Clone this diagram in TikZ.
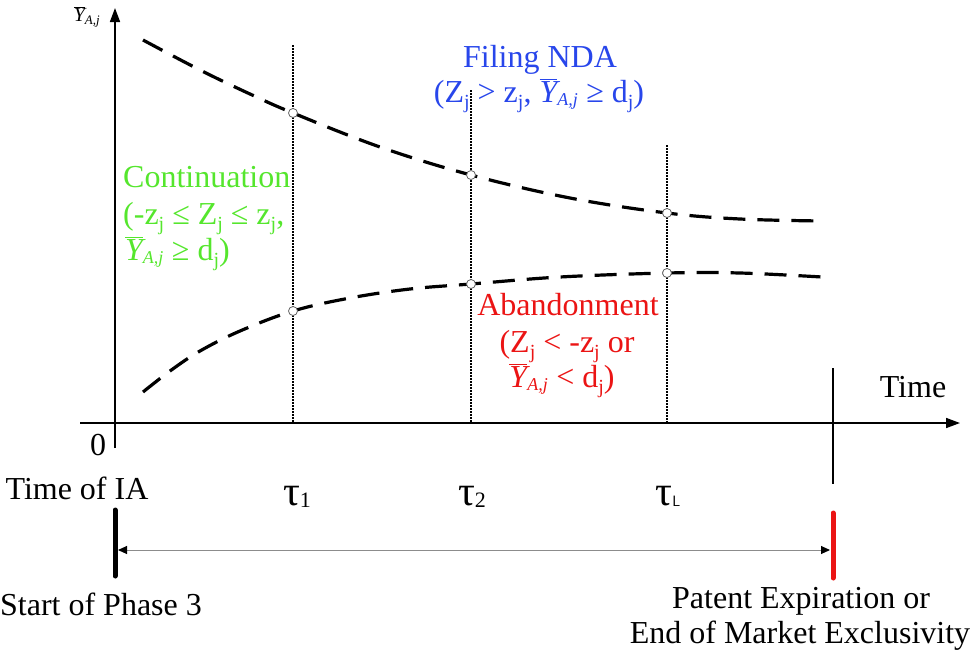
\documentclass[tikz,border=0pt]{standalone}
\usepackage{fontspec}
\setmainfont{Liberation Serif}
\usetikzlibrary{arrows.meta}
\definecolor{nda}{RGB}{40,70,235}
\definecolor{cont}{RGB}{85,230,45}
\definecolor{aban}{RGB}{235,20,20}
\newcommand{\lo}[1]{\raisebox{-6pt}{\fontsize{20}{20}\selectfont #1}}
\newcommand{\YAj}{$\overline{\hbox{\itshape Y}}_{\hbox{\fontsize{18}{18}\selectfont\itshape A,j}}$}
\newcommand{\YAjs}{$\overline{\hbox{\itshape Y}}_{\hbox{\fontsize{13}{13}\selectfont\itshape A,j}}$}
\tikzset{
  big/.style={font=\fontsize{32}{37}\selectfont, inner sep=0pt, anchor=base},
  taulab/.style={font=\fontsize{42}{42}\selectfont, inner sep=0pt, anchor=base},
  axis/.style={line width=1.6pt, -{Triangle[length=14pt,width=10pt]}},
  guide/.style={line width=1.1pt, dash pattern=on 1.6pt off 1.4pt},
  boundary/.style={line width=3.2pt, dash pattern=on 22pt off 12pt},
  pt/.style={circle, draw=black!60, fill=white, line width=0.8pt, minimum size=9pt, inner sep=0pt},
  bar/.style={line width=5pt, line cap=round},
}
\begin{document}
\begin{tikzpicture}[x=1pt,y=-1pt]
\useasboundingbox (0,0) rectangle (975,654);
% axes
\coordinate (ybot) at (115,448);
\coordinate (ytop) at (115,8);
\coordinate (xl) at (80,423);
\coordinate (xr) at (960,423);
\draw[axis] (ybot) -- (ytop);
\draw[axis] (xl) -- (xr);
\node[inner sep=0pt, font=\fontsize{20}{20}\selectfont] (ylab) at (87,17) {\YAjs};
\node[big] (zero) at (98,455) {0};
\node[big] (time) at (913,397) {Time};
% guide lines
\coordinate (g1t) at (293,45);  \coordinate (g1b) at (293,423);
\coordinate (g2t) at (471,90);  \coordinate (g2b) at (471,423);
\coordinate (g3t) at (667,145); \coordinate (g3b) at (667,423);
\draw[guide] (g1t) -- (g1b);
\draw[guide] (g2t) -- (g2b);
\draw[guide] (g3t) -- (g3b);
\coordinate (endt) at (833,368); \coordinate (endb) at (833,484);
\draw[line width=1.4pt] (endt) -- (endb);
% boundaries
\draw[boundary] plot[smooth, tension=0.6] coordinates {(143,40) (200,70) (250,94) (293,113) (380,147) (471,175) (570,198) (667,213) (740,219) (822,221)};
\draw[boundary] plot[smooth, tension=0.6] coordinates {(143,392) (170,371) (200,351) (240,331) (293,311) (350,298) (410,289) (471,284) (560,277) (667,273) (740,273) (822,277)};
\node[pt] (u1) at (293,113) {};
\node[pt] (u2) at (471,175) {};
\node[pt] (u3) at (667,213) {};
\node[pt] (l1) at (293,311) {};
\node[pt] (l2) at (471,284) {};
\node[pt] (l3) at (667,273) {};
% region labels
\node[big, text=nda] (nda1) at (540,67) {Filing NDA};
\node[big, text=nda] (nda2) at (539,102) {(Z\lo{j} > z\lo{j}, \YAj{} ≥ d\lo{j})};
\node[big, text=cont, anchor=base west] (con1) at (123,187) {Continuation};
\node[big, text=cont, anchor=base west] (con2) at (123,224) {(-z\lo{j} ≤ Z\lo{j} ≤ z\lo{j},};
\node[big, text=cont, anchor=base west] (con3) at (125,260) {\YAj{} ≥ d\lo{j})};
\node[big, text=aban] (ab1) at (568,315) {Abandonment};
\node[big, text=aban] (ab2) at (567,352) {(Z\lo{j} < -z\lo{j} or};
\node[big, text=aban] (ab3) at (562,387) {\YAj{} < d\lo{j})};
% time labels
\node[big] (tia) at (77,499) {Time of IA};
\node[taulab] (tau1) at (297,505) {τ\raisebox{-2pt}{\fontsize{22}{22}\selectfont 1}};
\node[taulab] (tau2) at (472,505) {τ\raisebox{-2pt}{\fontsize{22}{22}\selectfont 2}};
\node[taulab] (tauL) at (668,505) {τ\raisebox{-1pt}{\sffamily\fontsize{15}{15}\selectfont L}};
% bottom span
\coordinate (s1) at (115,510); \coordinate (s2) at (115,576);
\coordinate (e1) at (833,513); \coordinate (e2) at (833,578);
\draw[bar] (s1) -- (s2);
\draw[bar, aban] (e1) -- (e2);
\coordinate (al) at (118,550); \coordinate (ar) at (830,550);
\draw[line width=1pt, black!45, {Triangle[black,length=9pt,width=8pt]}-{Triangle[black,length=9pt,width=8pt]}] (al) -- (ar);
\node[big] (start) at (101,615) {Start of Phase 3};
\node[big] (pat1) at (801,608) {Patent Expiration or};
\node[big] (pat2) at (800,643) {End of Market Exclusivity};
\end{tikzpicture}
\end{document}
